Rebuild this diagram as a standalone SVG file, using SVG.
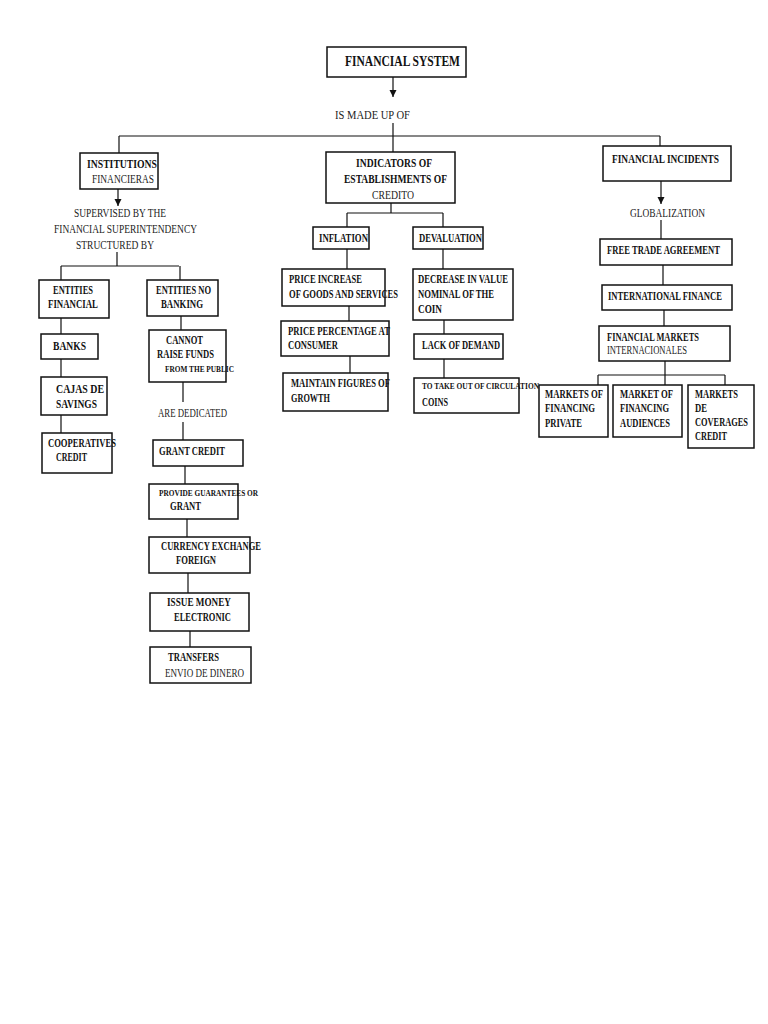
<svg xmlns="http://www.w3.org/2000/svg" width="768" height="1024" viewBox="0 0 768 1024">
<style>
.bg{fill:#fff}
.box{fill:#fff;stroke:#111;stroke-width:1.5}
.ln{fill:none;stroke:#111;stroke-width:1.2}
text{font-family:"Liberation Serif","Times New Roman",serif;fill:#111}
.b{font-weight:bold;font-size:11.5px}
.t{font-weight:bold;font-size:14px}
.s{font-weight:bold;font-size:8.5px}
.r{font-weight:normal;font-size:12px;fill:#222}
</style>
<defs>
<marker id="ar" markerWidth="8" markerHeight="8" refX="7" refY="4" orient="auto" markerUnits="userSpaceOnUse">
<path d="M0,0.5 L7,4 L0,7.5 z" fill="#111"/>
</marker>
</defs>
<rect class="bg" x="0" y="0" width="768" height="1024"/>

<g id="connectors">
<path class="ln" d="M393,77 V97" marker-end="url(#ar)"/>
<path class="ln" d="M393,123 V152"/>
<path class="ln" d="M119,136 H660 M119,136 V153 M660,136 V146"/>
<path class="ln" d="M118,189 V206" marker-end="url(#ar)"/>
<path class="ln" d="M117,252 V266 M61,266 H179 M61,266 V280 M180,266 V280"/>
<path class="ln" d="M61,318 V334 M61,359 V377 M61,415 V433"/>
<path class="ln" d="M181,316 V330 M183,382 V402 M183,422 V440 M185,466 V484 M187,519 V537 M188,573 V593 M190,631 V647"/>
<path class="ln" d="M391,203 V213 M347,213 H443 M347,213 V227 M443,213 V227"/>
<path class="ln" d="M347,249 V269 M349,306 V321 M350,356 V373"/>
<path class="ln" d="M443,249 V269 M444,320 V334 M444,359 V378"/>
<path class="ln" d="M661,181 V204" marker-end="url(#ar)"/>
<path class="ln" d="M661,220 V239 M663,265 V285 M664,310 V326 M665,361 V375 M598,375 H725 M598,375 V385 M665,375 V385 M725,375 V385"/>
</g>

<g id="n_fs"><rect class="box" x="327" y="47" width="139" height="30"/>
<text class="t" x="345" y="66" textLength="115" lengthAdjust="spacingAndGlyphs">FINANCIAL SYSTEM</text></g>
<g id="l_made"><text class="r" x="335" y="119" textLength="75" lengthAdjust="spacingAndGlyphs">IS MADE UP OF</text></g>

<g id="n_inst"><rect class="box" x="80" y="153" width="78" height="36"/>
<text class="b" x="87" y="168" textLength="70" lengthAdjust="spacingAndGlyphs">INSTITUTIONS</text>
<text class="r" x="92" y="183" textLength="62" lengthAdjust="spacingAndGlyphs">FINANCIERAS</text></g>
<g id="l_sup">
<text class="r" x="74" y="217" textLength="92" lengthAdjust="spacingAndGlyphs">SUPERVISED BY THE</text>
<text class="r" x="54" y="233" textLength="143" lengthAdjust="spacingAndGlyphs">FINANCIAL SUPERINTENDENCY</text>
<text class="r" x="76" y="249" textLength="78" lengthAdjust="spacingAndGlyphs">STRUCTURED BY</text></g>

<g id="n_ef"><rect class="box" x="39" y="280" width="70" height="38"/>
<text class="b" x="53" y="294" textLength="40" lengthAdjust="spacingAndGlyphs">ENTITIES</text>
<text class="b" x="48" y="308" textLength="50" lengthAdjust="spacingAndGlyphs">FINANCIAL</text></g>
<g id="n_enb"><rect class="box" x="147" y="280" width="71" height="36"/>
<text class="b" x="156" y="294" textLength="55" lengthAdjust="spacingAndGlyphs">ENTITIES NO</text>
<text class="b" x="161" y="308" textLength="42" lengthAdjust="spacingAndGlyphs">BANKING</text></g>
<g id="n_banks"><rect class="box" x="41" y="334" width="57" height="25"/>
<text class="b" x="53" y="350" textLength="33" lengthAdjust="spacingAndGlyphs">BANKS</text></g>
<g id="n_cajas"><rect class="box" x="41" y="377" width="66" height="38"/>
<text class="b" x="56" y="393" textLength="48" lengthAdjust="spacingAndGlyphs">CAJAS DE</text>
<text class="b" x="56" y="408" textLength="41" lengthAdjust="spacingAndGlyphs">SAVINGS</text></g>
<g id="n_coop"><rect class="box" x="42" y="433" width="70" height="40"/>
<text class="b" x="48" y="447" textLength="68" lengthAdjust="spacingAndGlyphs">COOPERATIVES</text>
<text class="b" x="56" y="461" textLength="31" lengthAdjust="spacingAndGlyphs">CREDIT</text></g>

<g id="n_cannot"><rect class="box" x="149" y="330" width="77" height="52"/>
<text class="b" x="166" y="344" textLength="37" lengthAdjust="spacingAndGlyphs">CANNOT</text>
<text class="b" x="157" y="358" textLength="57" lengthAdjust="spacingAndGlyphs">RAISE FUNDS</text>
<text class="s" x="165" y="372" textLength="69" lengthAdjust="spacingAndGlyphs">FROM THE PUBLIC</text></g>
<g id="l_ded"><text class="r" x="158" y="417" textLength="69" lengthAdjust="spacingAndGlyphs">ARE DEDICATED</text></g>
<g id="n_grant"><rect class="box" x="153" y="440" width="90" height="26"/>
<text class="b" x="159" y="455" textLength="66" lengthAdjust="spacingAndGlyphs">GRANT CREDIT</text></g>
<g id="n_prov"><rect class="box" x="149" y="484" width="89" height="35"/>
<text class="s" x="159" y="496" textLength="99" lengthAdjust="spacingAndGlyphs">PROVIDE GUARANTEES OR</text>
<text class="b" x="170" y="510" textLength="31" lengthAdjust="spacingAndGlyphs">GRANT</text></g>
<g id="n_curr"><rect class="box" x="149" y="537" width="101" height="36"/>
<text class="b" x="161" y="550" textLength="100" lengthAdjust="spacingAndGlyphs">CURRENCY EXCHANGE</text>
<text class="b" x="176" y="564" textLength="40" lengthAdjust="spacingAndGlyphs">FOREIGN</text></g>
<g id="n_issue"><rect class="box" x="150" y="593" width="99" height="38"/>
<text class="b" x="167" y="606" textLength="64" lengthAdjust="spacingAndGlyphs">ISSUE MONEY</text>
<text class="b" x="174" y="621" textLength="57" lengthAdjust="spacingAndGlyphs">ELECTRONIC</text></g>
<g id="n_trans"><rect class="box" x="150" y="647" width="101" height="36"/>
<text class="b" x="168" y="661" textLength="51" lengthAdjust="spacingAndGlyphs">TRANSFERS</text>
<text class="r" x="165" y="677" textLength="79" lengthAdjust="spacingAndGlyphs">ENVIO DE DINERO</text></g>

<g id="n_ind"><rect class="box" x="326" y="152" width="129" height="51"/>
<text class="b" x="356" y="167" textLength="76" lengthAdjust="spacingAndGlyphs">INDICATORS OF</text>
<text class="b" x="344" y="183" textLength="103" lengthAdjust="spacingAndGlyphs">ESTABLISHMENTS OF</text>
<text class="r" x="372" y="199" textLength="42" lengthAdjust="spacingAndGlyphs">CREDITO</text></g>
<g id="n_infl"><rect class="box" x="313" y="227" width="56" height="22"/>
<text class="b" x="319" y="242" textLength="49" lengthAdjust="spacingAndGlyphs">INFLATION</text></g>
<g id="n_deval"><rect class="box" x="413" y="227" width="70" height="22"/>
<text class="b" x="419" y="242" textLength="63" lengthAdjust="spacingAndGlyphs">DEVALUATION</text></g>
<g id="n_price"><rect class="box" x="282" y="269" width="103" height="37"/>
<text class="b" x="289" y="283" textLength="73" lengthAdjust="spacingAndGlyphs">PRICE INCREASE</text>
<text class="b" x="289" y="298" textLength="109" lengthAdjust="spacingAndGlyphs">OF GOODS AND SERVICES</text></g>
<g id="n_pct"><rect class="box" x="281" y="321" width="108" height="35"/>
<text class="b" x="288" y="335" textLength="102" lengthAdjust="spacingAndGlyphs">PRICE PERCENTAGE AT</text>
<text class="b" x="288" y="349" textLength="50" lengthAdjust="spacingAndGlyphs">CONSUMER</text></g>
<g id="n_maint"><rect class="box" x="283" y="373" width="105" height="38"/>
<text class="b" x="291" y="387" textLength="99" lengthAdjust="spacingAndGlyphs">MAINTAIN FIGURES OF</text>
<text class="b" x="291" y="402" textLength="39" lengthAdjust="spacingAndGlyphs">GROWTH</text></g>
<g id="n_dec"><rect class="box" x="413" y="269" width="100" height="51"/>
<text class="b" x="418" y="283" textLength="90" lengthAdjust="spacingAndGlyphs">DECREASE IN VALUE</text>
<text class="b" x="418" y="298" textLength="76" lengthAdjust="spacingAndGlyphs">NOMINAL OF THE</text>
<text class="b" x="418" y="313" textLength="24" lengthAdjust="spacingAndGlyphs">COIN</text></g>
<g id="n_lack"><rect class="box" x="414" y="334" width="89" height="25"/>
<text class="b" x="422" y="349" textLength="78" lengthAdjust="spacingAndGlyphs">LACK OF DEMAND</text></g>
<g id="n_take"><rect class="box" x="414" y="378" width="105" height="35"/>
<text class="s" x="422" y="389" textLength="117" lengthAdjust="spacingAndGlyphs">TO TAKE OUT OF CIRCULATION</text>
<text class="b" x="422" y="406" textLength="26" lengthAdjust="spacingAndGlyphs">COINS</text></g>

<g id="n_inc"><rect class="box" x="603" y="146" width="128" height="35"/>
<text class="b" x="612" y="163" textLength="107" lengthAdjust="spacingAndGlyphs">FINANCIAL INCIDENTS</text></g>
<g id="l_glob"><text class="r" x="630" y="217" textLength="75" lengthAdjust="spacingAndGlyphs">GLOBALIZATION</text></g>
<g id="n_fta"><rect class="box" x="600" y="239" width="132" height="26"/>
<text class="b" x="607" y="254" textLength="113" lengthAdjust="spacingAndGlyphs">FREE TRADE AGREEMENT</text></g>
<g id="n_intl"><rect class="box" x="602" y="285" width="130" height="25"/>
<text class="b" x="608" y="300" textLength="114" lengthAdjust="spacingAndGlyphs">INTERNATIONAL FINANCE</text></g>
<g id="n_fm"><rect class="box" x="599" y="326" width="131" height="35"/>
<text class="b" x="607" y="341" textLength="92" lengthAdjust="spacingAndGlyphs">FINANCIAL MARKETS</text>
<text class="r" x="607" y="354" textLength="80" lengthAdjust="spacingAndGlyphs">INTERNACIONALES</text></g>
<g id="n_m1"><rect class="box" x="539" y="385" width="69" height="52"/>
<text class="b" x="545" y="398" textLength="58" lengthAdjust="spacingAndGlyphs">MARKETS OF</text>
<text class="b" x="545" y="412" textLength="50" lengthAdjust="spacingAndGlyphs">FINANCING</text>
<text class="b" x="545" y="427" textLength="37" lengthAdjust="spacingAndGlyphs">PRIVATE</text></g>
<g id="n_m2"><rect class="box" x="613" y="385" width="69" height="52"/>
<text class="b" x="620" y="398" textLength="53" lengthAdjust="spacingAndGlyphs">MARKET OF</text>
<text class="b" x="620" y="412" textLength="49" lengthAdjust="spacingAndGlyphs">FINANCING</text>
<text class="b" x="620" y="427" textLength="50" lengthAdjust="spacingAndGlyphs">AUDIENCES</text></g>
<g id="n_m3"><rect class="box" x="688" y="385" width="66" height="63"/>
<text class="b" x="695" y="398" textLength="43" lengthAdjust="spacingAndGlyphs">MARKETS</text>
<text class="b" x="695" y="412" textLength="12" lengthAdjust="spacingAndGlyphs">DE</text>
<text class="b" x="695" y="426" textLength="53" lengthAdjust="spacingAndGlyphs">COVERAGES</text>
<text class="b" x="695" y="440" textLength="32" lengthAdjust="spacingAndGlyphs">CREDIT</text></g>
</svg>
